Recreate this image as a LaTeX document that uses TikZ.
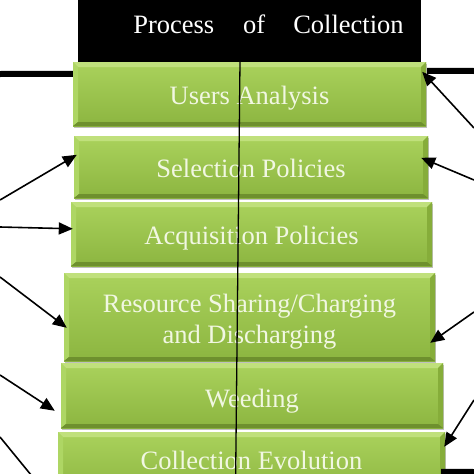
\documentclass[tikz,border=0pt]{standalone}
\usepackage{fontspec}
\setmainfont{Liberation Serif}
\usetikzlibrary{arrows.meta,calc,shadows}
\definecolor{facetop}{HTML}{AAD25C}
\definecolor{facebot}{HTML}{8CB540}
\definecolor{bevtop}{HTML}{C0E07C}
\definecolor{bevleft}{HTML}{AED664}
\definecolor{bevright}{HTML}{86AD3A}
\definecolor{bevbot}{HTML}{6E902E}
\definecolor{txt}{HTML}{F1F7E2}
\tikzset{
  greenbox/.style={draw=none, inner sep=0pt, top color=facetop, bottom color=facebot,
    text=txt, font=\fontsize{26.5}{31}\selectfont, align=center,
    text height=22pt, text depth=2pt,
    drop shadow={shadow xshift=1pt, shadow yshift=-2pt, opacity=0.25, fill=black},
    path picture={
      \fill[bevtop] (path picture bounding box.north west) -- (path picture bounding box.north east)
        -- ([xshift=-5pt,yshift=-5pt]path picture bounding box.north east)
        -- ([xshift=5pt,yshift=-5pt]path picture bounding box.north west) -- cycle;
      \fill[bevleft] (path picture bounding box.north west) -- ([xshift=5pt,yshift=-5pt]path picture bounding box.north west)
        -- ([xshift=5pt,yshift=4pt]path picture bounding box.south west) -- (path picture bounding box.south west) -- cycle;
      \fill[bevright] (path picture bounding box.north east) -- ([xshift=-5pt,yshift=-5pt]path picture bounding box.north east)
        -- ([xshift=-5pt,yshift=4pt]path picture bounding box.south east) -- (path picture bounding box.south east) -- cycle;
      \fill[bevbot] (path picture bounding box.south west) -- (path picture bounding box.south east)
        -- ([xshift=-5pt,yshift=4pt]path picture bounding box.south east)
        -- ([xshift=5pt,yshift=4pt]path picture bounding box.south west) -- cycle;
    }},
  titlebox/.style={fill=black, text=white, inner sep=0pt, font=\fontsize{26.5}{31}\selectfont,
    text height=20pt, text depth=1pt},
  arr/.style={line width=1.6pt, -{Triangle[length=14pt,width=12pt]}},
  thick line/.style={line width=6pt},
  axisline/.style={line width=1.3pt}
}
\begin{document}
\begin{tikzpicture}[x=1pt,y=-1pt]
\useasboundingbox (0,0) rectangle (474,474);
\clip (0,0) rectangle (474,474);
\fill[white] (0,0) rectangle (474,474);
% title
\node[titlebox, minimum width=343pt, minimum height=77pt] (title) at (249.5,23.5) {\hspace*{38pt}Process\hspace{29pt}of\hspace{28pt}Collection};
% boxes
\node[greenbox, minimum width=353pt, minimum height=64pt] (ua) at (249.5,94) {Users Analysis};
\node[greenbox, minimum width=354pt, minimum height=62pt] (sp) at (251,167) {Selection Policies};
\node[greenbox, minimum width=361pt, minimum height=64pt] (ap) at (251.5,234) {Acquisition Policies};
\node[greenbox, minimum width=371pt, minimum height=88pt, text height=54pt, text depth=2pt] (rs) at (249.5,317) {Resource Sharing/Charging\\and Discharging};
\node[greenbox, minimum width=382pt, minimum height=65pt, text height=23pt, text depth=0pt] (wd) at (252,395.5) {Weeding};
\node[greenbox, minimum width=387pt, minimum height=64pt, text height=13pt, text depth=3pt] (ce) at (251.5,464) {Collection Evolution};
% vertical line
\coordinate (vbot) at (235.5,490);
\draw[axisline] ($(ua.north)+(-9.5,0)$) -- (vbot);
% thick lines
\coordinate (tl) at (0,74);
\draw[thick line] (tl) -- ($(ua.north west)+(0,12)$);
\coordinate (tr) at (474,71);
\draw[thick line] (tr) -- ($(ua.north east)+(1,9)$);
\coordinate (br) at (474,472);
\draw[thick line] (br) -- ($(ce.north east)+(-4,40)$);
% left arrows
\coordinate (l1) at (0,200);
\coordinate (l2) at (0,227);
\coordinate (l3) at (0,277);
\coordinate (l4) at (0,375);
\coordinate (l5) at (0,437);
\draw[arr] (l1) -- ($(sp.north west)+(3,19)$);
\draw[arr] (l2) -- ($(ap.north west)+(2,27)$);
\draw[arr] (l3) -- ($(rs.north west)+(3,55)$);
\draw[arr] (l4) -- ($(wd.north west)+(-6,48)$);
\draw[arr] (l5) -- ($(ce.north west)+(-13,60)$);
% right arrows
\coordinate (r1) at (474,128);
\coordinate (r2) at (474,180);
\coordinate (r3) at (474,312);
\coordinate (r4) at (474,400);
\draw[arr] (r1) -- ($(ua.north east)+(-4,10)$);
\draw[arr] (r2) -- ($(sp.north east)+(-7,22)$);
\draw[arr] (r3) -- ($(rs.north east)+(-5,70)$);
\draw[arr] (r4) -- ($(ce.north east)+(-1,15)$);
\end{tikzpicture}
\end{document}
